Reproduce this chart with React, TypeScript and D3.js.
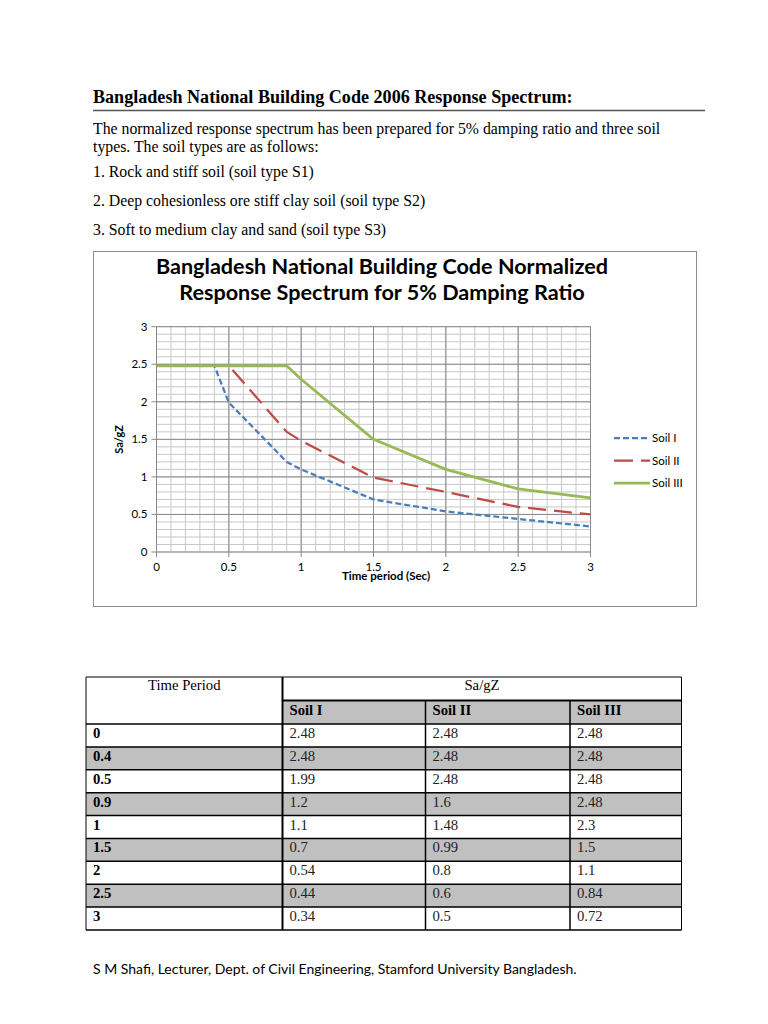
import React from "react";
import * as d3 from "d3";

const periods = [0, 0.4, 0.5, 0.9, 1, 1.5, 2, 2.5, 3];
const soilI = [2.48, 2.48, 1.99, 1.2, 1.1, 0.7, 0.54, 0.44, 0.34];
const soilII = [2.48, 2.48, 2.48, 1.6, 1.48, 0.99, 0.8, 0.6, 0.5];
const soilIII = [2.48, 2.48, 2.48, 2.48, 2.3, 1.5, 1.1, 0.84, 0.72];
const seriesNames = ["Soil I", "Soil II", "Soil III"];
const periodLabels = ["0", "0.4", "0.5", "0.9", "1", "1.5", "2", "2.5", "3"];
const soilILabels = ["2.48", "2.48", "1.99", "1.2", "1.1", "0.7", "0.54", "0.44", "0.34"];
const soilIILabels = ["2.48", "2.48", "2.48", "1.6", "1.48", "0.99", "0.8", "0.6", "0.5"];
const soilIIILabels = ["2.48", "2.48", "2.48", "2.48", "2.3", "1.5", "1.1", "0.84", "0.72"];
const xTicks = [0, 0.5, 1, 1.5, 2, 2.5, 3];
const yTicks = [0, 0.5, 1, 1.5, 2, 2.5, 3];

const heading = "Bangladesh National Building Code 2006 Response Spectrum:";
const paragraph = [
  "The normalized response spectrum has been prepared for 5% damping ratio and three soil",
  "types. The soil types are as follows:",
];
const listItems = [
  "1. Rock and stiff soil (soil type S1)",
  "2. Deep cohesionless ore stiff clay soil (soil type S2)",
  "3. Soft to medium clay and sand (soil type S3)",
];
const chartTitle = [
  "Bangladesh National Building Code Normalized",
  "Response Spectrum for 5% Damping Ratio",
];
const footer = "S M Shafi, Lecturer, Dept. of Civil Engineering, Stamford University Bangladesh.";

const colors = ["#4a7ebb", "#be4b48", "#98b954"];
const dashes = ["6,3", "18,8", null];
const widths = [2.25, 2.25, 2.75];

export default function App() {
  const x = d3.scaleLinear().domain([0, 3]).range([156.5, 590.5]);
  const y = d3.scaleLinear().domain([0, 3]).range([552, 326.7]);
  const minorX = d3.range(0, 31).map((i) => i / 10);
  const minorY = d3.range(0, 31).map((i) => i / 10);
  const series = [soilI, soilII, soilIII];
  const line = d3
    .line<[number, number]>()
    .x((d) => x(d[0]))
    .y((d) => y(d[1]));

  const colEdges = [86, 282.5, 425.5, 570, 681.5];
  const tableTop = 677;
  const header2Top = 700.5;
  const rowY = d3
    .scaleBand<number>()
    .domain(d3.range(periods.length))
    .range([724, 930]);
  const rowH = rowY.bandwidth();
  const shaded = (i: number) => i % 2 === 1;
  const cellTexts = [periodLabels, soilILabels, soilIILabels, soilIIILabels];

  const serif = "'Liberation Serif', 'Times New Roman', serif";
  const sans = "Lato, 'Open Sans', sans-serif";
  const tfs = 14.7;

  return (
    <svg
      width={768}
      height={1024}
      style={{ position: "absolute", left: 0, top: 0, background: "#fff" }}
    >
      <rect x={0} y={0} width={768} height={1024} fill="#fff" />
      <text x={93} y={103} fontFamily={serif} fontWeight="bold" fontSize={18.1} fill="#000">
        {heading}
      </text>
      <line x1={93} x2={705} y1={110.5} y2={110.5} stroke="#555" strokeWidth={1.5} />
      {paragraph.map((t, i) => (
        <text key={"p" + i} x={93} y={134 + i * 18} fontFamily={serif} fontSize={15.8} fill="#000">
          {t}
        </text>
      ))}
      {listItems.map((t, i) => (
        <text key={"l" + i} x={93} y={177 + i * 29} fontFamily={serif} fontSize={15.8} fill="#000">
          {t}
        </text>
      ))}

      <rect x={93.5} y={251.5} width={603} height={355} fill="#fff" stroke="#8c8c8c" strokeWidth={1} />
      {chartTitle.map((t, i) => (
        <text
          key={"ct" + i}
          x={382}
          y={274 + i * 26}
          textAnchor="middle"
          fontFamily={sans}
          fontWeight="bold"
          fontSize={21.6}
          fill="#000"
        >
          {t}
        </text>
      ))}

      {minorX.map((v, i) => (
        <line key={"mx" + i} x1={x(v)} x2={x(v)} y1={y(3)} y2={y(0)} stroke="#c8c8c8" strokeWidth={1} />
      ))}
      {minorY.map((v, i) => (
        <line key={"my" + i} x1={x(0)} x2={x(3)} y1={y(v)} y2={y(v)} stroke="#c8c8c8" strokeWidth={1} />
      ))}
      {xTicks.map((v, i) => (
        <line key={"Mx" + i} x1={x(v)} x2={x(v)} y1={y(3)} y2={y(0)} stroke="#8a8a8a" strokeWidth={1} />
      ))}
      {yTicks.map((v, i) => (
        <line key={"My" + i} x1={x(0)} x2={x(3)} y1={y(v)} y2={y(v)} stroke="#8a8a8a" strokeWidth={1} />
      ))}
      {yTicks.map((v, i) => (
        <line key={"ty" + i} x1={x(0) - 5} x2={x(0)} y1={y(v)} y2={y(v)} stroke="#8a8a8a" strokeWidth={1} />
      ))}
      {xTicks.map((v, i) => (
        <line key={"tx" + i} x1={x(v)} x2={x(v)} y1={y(0)} y2={y(0) + 5} stroke="#8a8a8a" strokeWidth={1} />
      ))}
      {yTicks.map((v, i) => (
        <text
          key={"yl" + i}
          x={x(0) - 9}
          y={y(v) + 4}
          textAnchor="end"
          fontFamily={sans}
          fontSize={11.5}
          fill="#000"
        >
          {String(v)}
        </text>
      ))}
      {xTicks.map((v, i) => (
        <text
          key={"xl" + i}
          x={x(v)}
          y={y(0) + 19}
          textAnchor="middle"
          fontFamily={sans}
          fontSize={11.5}
          fill="#000"
        >
          {String(v)}
        </text>
      ))}
      <text x={386} y={580} textAnchor="middle" fontFamily={sans} fontWeight="bold" fontSize={11.5} fill="#000">
        Time period (Sec)
      </text>
      <text
        transform={`translate(123,${y(1.5)}) rotate(-90)`}
        textAnchor="middle"
        fontFamily={sans}
        fontWeight="bold"
        fontSize={11}
        fill="#000"
      >
        Sa/gZ
      </text>

      {series.map((s, k) => (
        <path
          key={"s" + k}
          d={line(periods.map((p, i) => [p, s[i]] as [number, number])) || ""}
          fill="none"
          stroke={colors[k]}
          strokeWidth={widths[k]}
          strokeDasharray={dashes[k] || undefined}
          strokeLinejoin="round"
        />
      ))}

      {seriesNames.map((n, k) => (
        <g key={"lg" + k}>
          <line
            x1={614}
            x2={650}
            y1={438 + k * 22.5}
            y2={438 + k * 22.5}
            stroke={colors[k]}
            strokeWidth={widths[k]}
            strokeDasharray={k === 1 ? "19,8" : dashes[k] || undefined}
          />
          <text x={652} y={442 + k * 22.5} fontFamily={sans} fontSize={11.5} fill="#000">
            {n}
          </text>
        </g>
      ))}

      <rect
        x={colEdges[1]}
        y={header2Top}
        width={colEdges[4] - colEdges[1]}
        height={724 - header2Top}
        fill="#c0c0c0"
      />
      {periods.map((_, i) =>
        shaded(i) ? (
          <rect
            key={"sh" + i}
            x={colEdges[0]}
            y={rowY(i)}
            width={colEdges[4] - colEdges[0]}
            height={rowH}
            fill="#c0c0c0"
          />
        ) : null
      )}
      <line x1={colEdges[0]} x2={colEdges[4]} y1={tableTop} y2={tableTop} stroke="#000" strokeWidth={1} />
      <line x1={colEdges[1]} x2={colEdges[4]} y1={header2Top} y2={header2Top} stroke="#000" strokeWidth={2} />
      {periods.map((_, i) => (
        <line
          key={"hl" + i}
          x1={colEdges[0]}
          x2={colEdges[4]}
          y1={rowY(i)}
          y2={rowY(i)}
          stroke="#000"
          strokeWidth={1.5}
        />
      ))}
      <line x1={colEdges[0]} x2={colEdges[4]} y1={930} y2={930} stroke="#000" strokeWidth={1.5} />
      <line x1={colEdges[0]} x2={colEdges[0]} y1={tableTop} y2={930} stroke="#000" strokeWidth={1} />
      <line x1={colEdges[1]} x2={colEdges[1]} y1={tableTop} y2={930} stroke="#000" strokeWidth={2} />
      <line x1={colEdges[2]} x2={colEdges[2]} y1={header2Top} y2={930} stroke="#000" strokeWidth={1.5} />
      <line x1={colEdges[3]} x2={colEdges[3]} y1={header2Top} y2={930} stroke="#000" strokeWidth={1.5} />
      <line x1={colEdges[4]} x2={colEdges[4]} y1={tableTop} y2={930} stroke="#000" strokeWidth={1} />
      <text x={(colEdges[0] + colEdges[1]) / 2} y={690} textAnchor="middle" fontFamily={serif} fontSize={tfs} fill="#000">
        Time Period
      </text>
      <text x={(colEdges[1] + colEdges[4]) / 2} y={690} textAnchor="middle" fontFamily={serif} fontSize={tfs} fill="#000">
        Sa/gZ
      </text>
      {seriesNames.map((n, k) => (
        <text key={"th" + k} x={colEdges[k + 1] + 7} y={714.5} fontFamily={serif} fontWeight="bold" fontSize={tfs} fill="#000">
          {n}
        </text>
      ))}
      {cellTexts.map((col, c) =>
        col.map((t, i) => (
          <text
            key={"c" + c + "_" + i}
            x={colEdges[c] + 7}
            y={rowY(i)! + 14}
            fontFamily={serif}
            fontWeight={c === 0 ? "bold" : "normal"}
            fontSize={tfs}
            fill={c === 0 ? "#000" : "#222"}
          >
            {t}
          </text>
        ))
      )}

      <text x={93} y={974} fontFamily={sans} fontSize={14} fill="#000">
        {footer}
      </text>
    </svg>
  );
}
